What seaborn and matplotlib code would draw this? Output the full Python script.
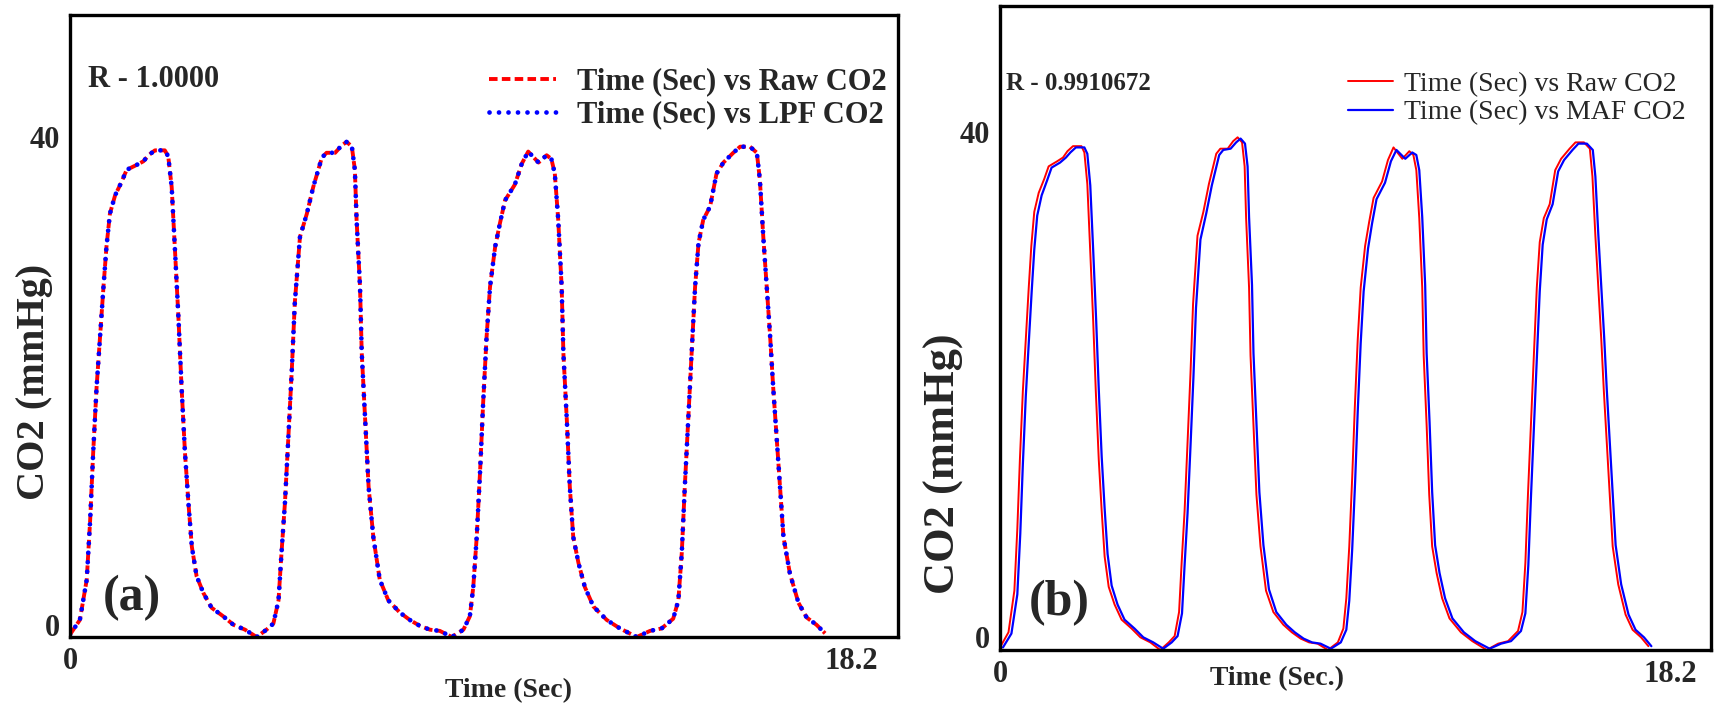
import matplotlib
matplotlib.use("Agg")
import matplotlib.pyplot as plt
import seaborn as sns

# time (s) and CO2 (mmHg)
time_sec = [0.0, 0.23, 0.39, 0.47, 0.54, 0.62, 0.70, 0.78, 0.85, 0.93, 1.05, 1.20, 1.32, 1.55, 1.71,
            1.83, 1.98, 2.21, 2.29, 2.37, 2.45, 2.53, 2.60, 2.68, 2.76, 2.84, 2.95, 3.11, 3.30, 3.57,
            3.81, 4.08, 4.35, 4.58, 4.74, 4.86, 4.93, 5.01, 5.09, 5.17, 5.24, 5.36, 5.52, 5.67, 5.87,
            5.98, 6.18, 6.33, 6.45, 6.57, 6.64, 6.68, 6.76, 6.80, 6.88, 6.96, 7.07, 7.22, 7.42, 7.69,
            7.92, 8.16, 8.39, 8.62, 8.90, 9.17, 9.32, 9.40, 9.48, 9.56, 9.63, 9.71, 9.79, 9.91, 10.02,
            10.14, 10.37, 10.53, 10.68, 10.92, 11.11, 11.22, 11.30, 11.38, 11.46, 11.50, 11.58, 11.65,
            11.73, 11.85, 12.00, 12.20, 12.51, 12.82, 13.21, 13.52, 13.79, 14.06, 14.18, 14.26, 14.33,
            14.41, 14.49, 14.57, 14.65, 14.76, 14.92, 15.07, 15.23, 15.46, 15.62, 15.85, 16.01, 16.08,
            16.16, 16.24, 16.32, 16.39, 16.47, 16.55, 16.63, 16.78, 16.98, 17.17, 17.40, 17.60]

raw_co2 = [-0.8, 0.4, 3.7, 8.6, 14.1, 19.5, 23.6, 27.7, 31.0, 33.7, 35.2, 36.3, 37.3, 37.7, 38.0,
           38.5, 38.9, 38.9, 38.4, 35.9, 30.5, 25.0, 19.5, 14.1, 10.0, 6.4, 4.0, 2.6, 1.4, 0.7,
           0.0, -0.4, -1.0, -0.4, 0.1, 2.0, 5.9, 10.0, 15.4, 20.9, 26.4, 31.8, 33.7, 35.9, 38.3,
           38.7, 38.7, 39.3, 39.6, 39.2, 37.3, 33.2, 27.7, 22.3, 16.8, 11.3, 7.2, 3.7, 2.0, 1.0,
           0.4, -0.1, -0.4, -0.5, -1.0, -0.4, 0.7, 3.1, 7.2, 12.7, 18.2, 23.6, 27.7, 31.0, 32.9,
           34.8, 36.1, 37.8, 38.8, 37.9, 38.5, 38.2, 37.0, 33.2, 27.7, 22.3, 16.8, 11.3,
           7.2, 5.1, 3.1, 1.5, 0.4, -0.3, -1.0, -0.5, -0.3, 0.5, 2.0, 5.9, 11.3,
           16.8, 22.3, 27.7, 31.3, 33.2, 34.3, 37.0, 37.9, 38.7, 39.2, 39.2, 38.7, 36.5,
           31.8, 27.7, 23.6, 19.5, 15.4, 11.3, 7.2, 4.2, 1.8, 0.6, 0.0, -0.7]

# LPF output sits exactly on the raw trace (R = 1.0000)
lpf_co2 = [-0.8, 0.4, 3.7, 8.6, 14.1, 19.5, 23.6, 27.7, 31.0, 33.7, 35.2, 36.3, 37.3, 37.7, 38.0,
           38.5, 38.9, 38.9, 38.4, 35.9, 30.5, 25.0, 19.5, 14.1, 10.0, 6.4, 4.0, 2.6, 1.4, 0.7,
           0.0, -0.4, -1.0, -0.4, 0.1, 2.0, 5.9, 10.0, 15.4, 20.9, 26.4, 31.8, 33.7, 35.9, 38.3,
           38.7, 38.7, 39.3, 39.6, 39.2, 37.3, 33.2, 27.7, 22.3, 16.8, 11.3, 7.2, 3.7, 2.0, 1.0,
           0.4, -0.1, -0.4, -0.5, -1.0, -0.4, 0.7, 3.1, 7.2, 12.7, 18.2, 23.6, 27.7, 31.0, 32.9,
           34.8, 36.1, 37.8, 38.8, 37.9, 38.5, 38.2, 37.0, 33.2, 27.7, 22.3, 16.8, 11.3,
           7.2, 5.1, 3.1, 1.5, 0.4, -0.3, -1.0, -0.5, -0.3, 0.5, 2.0, 5.9, 11.3,
           16.8, 22.3, 27.7, 31.3, 33.2, 34.3, 37.0, 37.9, 38.7, 39.2, 39.2, 38.7, 36.5,
           31.8, 27.7, 23.6, 19.5, 15.4, 11.3, 7.2, 4.2, 1.8, 0.6, 0.0, -0.7]

# MAF output lags the raw trace by a few samples
maf_time = [0.08, 0.31, 0.47, 0.55, 0.62, 0.70, 0.78, 0.86, 0.93, 1.01, 1.13, 1.28, 1.40, 1.63, 1.79,
            1.91, 2.06, 2.29, 2.37, 2.45, 2.53, 2.61, 2.68, 2.76, 2.84, 2.92, 3.03, 3.19, 3.38, 3.65,
            3.89, 4.16, 4.43, 4.66, 4.82, 4.94, 5.01, 5.09, 5.17, 5.25, 5.32, 5.44, 5.60, 5.75, 5.95,
            6.06, 6.26, 6.41, 6.53, 6.65, 6.72, 6.76, 6.84, 6.88, 6.96, 7.04, 7.15, 7.30, 7.50, 7.77,
            8.00, 8.24, 8.47, 8.70, 8.98, 9.25, 9.40, 9.48, 9.56, 9.64, 9.71, 9.79, 9.87, 9.99, 10.10,
            10.22, 10.45, 10.61, 10.76, 11.00, 11.19, 11.30, 11.38, 11.46, 11.54, 11.58, 11.66, 11.73,
            11.81, 11.93, 12.08, 12.28, 12.59, 12.90, 13.29, 13.60, 13.87, 14.14, 14.26, 14.34, 14.41,
            14.49, 14.57, 14.65, 14.73, 14.84, 15.00, 15.15, 15.31, 15.54, 15.70, 15.93, 16.09, 16.16,
            16.24, 16.32, 16.40, 16.47, 16.55, 16.63, 16.71, 16.86, 17.06, 17.25, 17.48, 17.68]

maf_co2 = [-0.8, 0.3, 3.4, 8.2, 13.7, 19.1, 23.3, 27.4, 30.7, 33.4, 35.0, 36.2, 37.2, 37.6, 38.0,
           38.4, 38.8, 38.8, 38.3, 35.8, 30.6, 25.1, 19.7, 14.3, 10.2, 6.6, 4.1, 2.6, 1.4, 0.7,
           0.0, -0.4, -0.9, -0.4, 0.1, 1.9, 5.7, 9.8, 15.1, 20.6, 26.1, 31.5, 33.6, 35.8, 38.2,
           38.6, 38.7, 39.2, 39.5, 39.1, 37.3, 33.3, 27.9, 22.5, 17.0, 11.5, 7.3, 3.8, 2.0, 1.0,
           0.4, -0.1, -0.4, -0.5, -0.9, -0.4, 0.6, 2.9, 7.0, 12.4, 17.9, 23.3, 27.4, 30.8, 32.8,
           34.7, 36.0, 37.7, 38.6, 37.9, 38.4, 38.2, 37.0, 33.3, 27.9, 22.5, 17.0, 11.5,
           7.3, 5.1, 3.1, 1.5, 0.4, -0.3, -0.9, -0.5, -0.3, 0.5, 1.9, 5.7, 11.0,
           16.5, 22.0, 27.4, 31.1, 33.1, 34.3, 36.9, 37.8, 38.6, 39.1, 39.1, 38.6, 36.5,
           31.9, 27.8, 23.7, 19.6, 15.5, 11.4, 7.3, 4.2, 1.8, 0.6, 0.0, -0.7]

x_ticks = [0, 18.2]
x_tick_labels = ["0", "18.2"]
y_ticks = [0, 40]
y_tick_labels = ["0", "40"]

sns.set_style("white")
plt.rcParams['font.family'] = ['Liberation Serif', 'DejaVu Serif']

fig = plt.figure(figsize=(17.2, 7.13), dpi=100)
ax_a = fig.add_axes([0.0407, 0.1066, 0.4814, 0.8724])
ax_b = fig.add_axes([0.5814, 0.0884, 0.4134, 0.9032])

# panel (a): raw vs low-pass filtered
sns.lineplot(x=time_sec, y=raw_co2, ax=ax_a, color="red", linewidth=2.8, sort=False,
             estimator=None, linestyle=(0, (2.2, 1.1)), label="Time (Sec) vs Raw CO2")
sns.lineplot(x=time_sec, y=lpf_co2, ax=ax_a, color="blue", linewidth=3.4, sort=False,
             estimator=None, linestyle=(0, (0.01, 2.0)), dash_capstyle="round",
             label="Time (Sec) vs LPF CO2")

# panel (b): raw vs moving average filtered
sns.lineplot(x=time_sec, y=raw_co2, ax=ax_b, color="red", linewidth=1.4, sort=False,
             estimator=None, label="Time (Sec) vs Raw CO2")
sns.lineplot(x=maf_time, y=maf_co2, ax=ax_b, color="blue", linewidth=1.6, sort=False,
             estimator=None, label="Time (Sec) vs MAF CO2")

for ax in (ax_a, ax_b):
    ax.set_xlim(0, 19.3)
    ax.set_ylim(-1, 50)
    ax.set_xticks(x_ticks)
    ax.set_xticklabels(x_tick_labels, fontsize=22, fontweight="bold")
    ax.set_yticks(y_ticks)
    ax.set_yticklabels(y_tick_labels, fontsize=22, fontweight="bold")
    ax.tick_params(length=0, pad=7)
    for s in ax.spines.values():
        s.set_visible(True)
        s.set_color("black")
        s.set_linewidth(2.4)

ax_a.set_xlabel("Time (Sec)", fontsize=20, fontweight="bold")
ax_a.xaxis.set_label_coords(0.53, -0.066)
ax_a.set_ylabel("CO2 (mmHg)", fontsize=29, fontweight="bold")
ax_a.yaxis.set_label_coords(-0.021, 0.41)

ax_b.set_xlabel("Time (Sec.)", fontsize=20, fontweight="bold")
ax_b.xaxis.set_label_coords(0.39, -0.025)
ax_b.set_ylabel("CO2 (mmHg)", fontsize=32, fontweight="bold")
ax_b.yaxis.set_label_coords(-0.05, 0.29)

ax_a.legend(loc="upper left", bbox_to_anchor=(0.487, 0.94), frameon=False,
            prop={"size": 22, "weight": "bold"}, handlelength=2.2, handletextpad=0.7,
            labelspacing=0.12, borderpad=0)
ax_b.legend(loc="upper left", bbox_to_anchor=(0.47, 0.92), frameon=False,
            prop={"size": 20}, handlelength=1.6, handletextpad=0.4,
            labelspacing=0.12, borderpad=0)

ax_a.text(0.022, 0.897, "R - 1.0000", transform=ax_a.transAxes, fontsize=22,
          fontweight="bold", va="center", ha="left")
ax_b.text(0.008, 0.880, "R - 0.9910672", transform=ax_b.transAxes, fontsize=18,
          fontweight="bold", va="center", ha="left")

ax_a.text(0.040, 0.063, "(a)", transform=ax_a.transAxes, fontsize=36,
          fontweight="bold", va="center", ha="left")
ax_b.text(0.040, 0.073, "(b)", transform=ax_b.transAxes, fontsize=36,
          fontweight="bold", va="center", ha="left")

fig.savefig("out.png", dpi=100, facecolor="white")
